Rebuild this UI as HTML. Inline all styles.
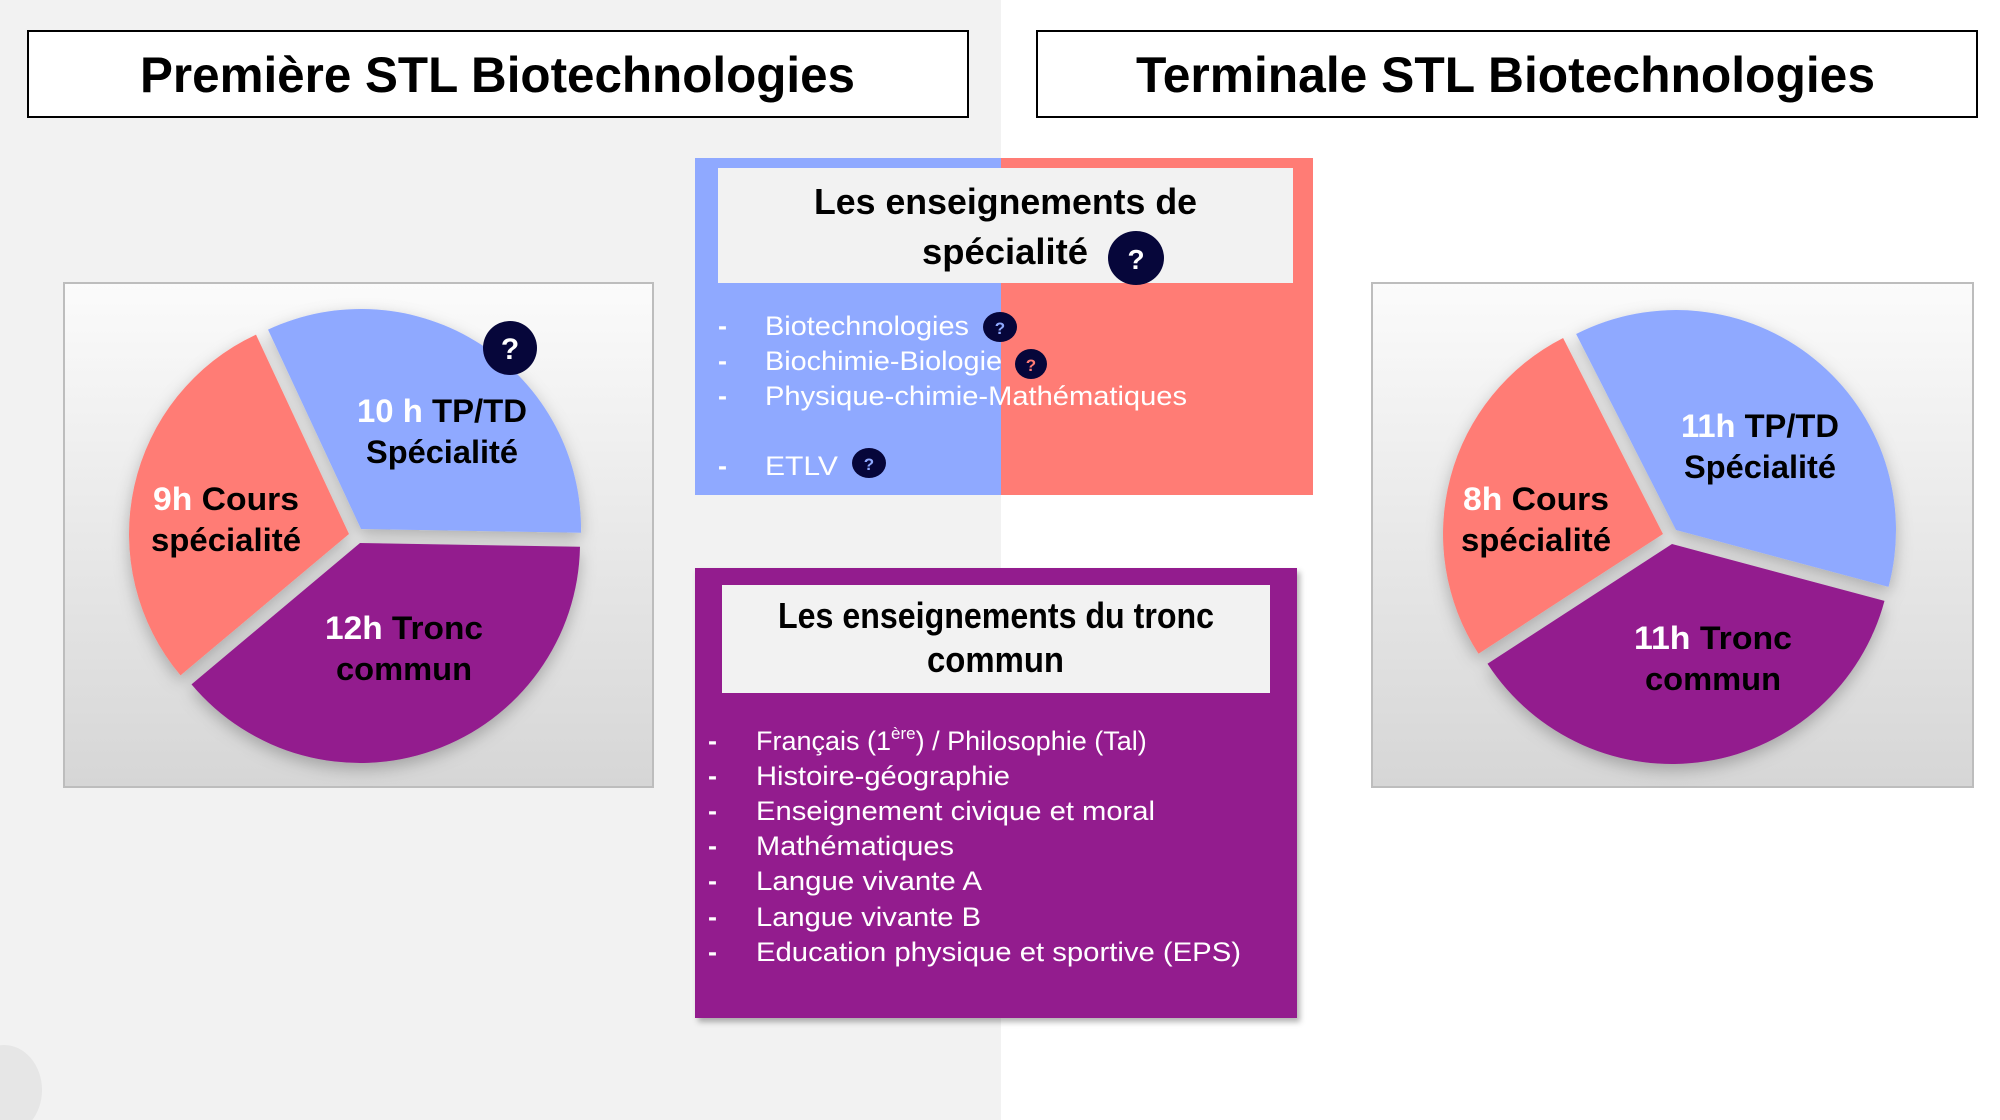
<!DOCTYPE html>
<html><head><meta charset="utf-8"><style>
html,body{margin:0;padding:0;width:2000px;height:1120px;overflow:hidden;background:#fff}
svg{display:block}
.t{font-family:"Liberation Sans",sans-serif;font-weight:bold}
.l{font-family:"Liberation Sans",sans-serif;fill:#fff}
</style></head><body>
<svg width="2000" height="1120" viewBox="0 0 2000 1120" xmlns="http://www.w3.org/2000/svg">
<defs>
<linearGradient id="pg" x1="0" y1="0" x2="0" y2="1"><stop offset="0" stop-color="#fbfbfb"/><stop offset="1" stop-color="#d6d6d6"/></linearGradient>
<filter id="sh" x="-20%" y="-20%" width="140%" height="140%"><feDropShadow dx="0" dy="6" stdDeviation="8" flood-color="#000" flood-opacity="0.25"/></filter>
<filter id="sh2" x="-10%" y="-10%" width="120%" height="120%"><feDropShadow dx="3" dy="4" stdDeviation="3" flood-color="#000" flood-opacity="0.3"/></filter>
</defs>
<rect x="0" y="0" width="1001" height="1120" fill="#f2f2f2"/>
<rect x="1001" y="0" width="999" height="1120" fill="#fff"/>
<ellipse cx="4" cy="1090" rx="38" ry="45" fill="#e6e6e6"/>

<rect x="28" y="31" width="940" height="86" fill="#fff" stroke="#000" stroke-width="2"/>
<text class="t" x="140" y="92" font-size="50" textLength="715" lengthAdjust="spacingAndGlyphs">Première STL Biotechnologies</text>
<rect x="1037" y="31" width="940" height="86" fill="#fff" stroke="#000" stroke-width="2"/>
<text class="t" x="1136" y="92" font-size="50" textLength="739" lengthAdjust="spacingAndGlyphs">Terminale STL Biotechnologies</text>

<rect x="64" y="283" width="589" height="504" fill="url(#pg)" stroke="#bdbdbd" stroke-width="2"/>
<g filter="url(#sh)">
<path d="M361,529 L268,329.6 A220,220 0 0 1 581,532.8 Z" fill="#8fa9ff"/>
<path d="M360,543 L580,546.8 A220,220 0 0 1 191.5,684.4 Z" fill="#931f8e"/>
<path d="M349,534 L180.5,675.4 A220,220 0 0 1 256,334.6 Z" fill="#ff7c75"/>
</g>
<circle cx="510" cy="348" r="27" fill="#06063a"/>
<text class="t" x="510" y="359" font-size="30" fill="#fff" text-anchor="middle">?</text>
<text class="t" x="442" y="422" font-size="32" text-anchor="middle" textLength="170" lengthAdjust="spacingAndGlyphs"><tspan fill="#fff">10 h</tspan> TP/TD</text>
<text class="t" x="442" y="463" font-size="32" text-anchor="middle" textLength="152" lengthAdjust="spacingAndGlyphs">Spécialité</text>
<text class="t" x="226" y="510" font-size="32" text-anchor="middle" textLength="146" lengthAdjust="spacingAndGlyphs"><tspan fill="#fff">9h</tspan> Cours</text>
<text class="t" x="226" y="551" font-size="32" text-anchor="middle" textLength="150" lengthAdjust="spacingAndGlyphs">spécialité</text>
<text class="t" x="404" y="639" font-size="32" text-anchor="middle" textLength="158" lengthAdjust="spacingAndGlyphs"><tspan fill="#fff">12h</tspan> Tronc</text>
<text class="t" x="404" y="680" font-size="32" text-anchor="middle" textLength="136" lengthAdjust="spacingAndGlyphs">commun</text>

<rect x="1372" y="283" width="601" height="504" fill="url(#pg)" stroke="#bdbdbd" stroke-width="2"/>
<g filter="url(#sh)">
<path d="M1676,530 L1576.1,334 A220,220 0 0 1 1888.5,586.9 Z" fill="#8fa9ff"/>
<path d="M1672,544 L1884.5,600.9 A220,220 0 0 1 1487.5,663.8 Z" fill="#931f8e"/>
<path d="M1663,534 L1478.5,653.8 A220,220 0 0 1 1563.1,338 Z" fill="#ff7c75"/>
</g>
<text class="t" x="1760" y="437" font-size="32" text-anchor="middle" textLength="158" lengthAdjust="spacingAndGlyphs"><tspan fill="#fff">11h</tspan> TP/TD</text>
<text class="t" x="1760" y="478" font-size="32" text-anchor="middle" textLength="152" lengthAdjust="spacingAndGlyphs">Spécialité</text>
<text class="t" x="1536" y="510" font-size="32" text-anchor="middle" textLength="146" lengthAdjust="spacingAndGlyphs"><tspan fill="#fff">8h</tspan> Cours</text>
<text class="t" x="1536" y="551" font-size="32" text-anchor="middle" textLength="150" lengthAdjust="spacingAndGlyphs">spécialité</text>
<text class="t" x="1713" y="649" font-size="32" text-anchor="middle" textLength="158" lengthAdjust="spacingAndGlyphs"><tspan fill="#fff">11h</tspan> Tronc</text>
<text class="t" x="1713" y="690" font-size="32" text-anchor="middle" textLength="136" lengthAdjust="spacingAndGlyphs">commun</text>

<rect x="695" y="158" width="306" height="337" fill="#8fa9ff"/>
<rect x="1001" y="158" width="312" height="337" fill="#ff7c75"/>
<rect x="718" y="168" width="575" height="115" fill="#f2f2f2"/>
<text class="t" x="814" y="214" font-size="36" textLength="383" lengthAdjust="spacingAndGlyphs">Les enseignements de</text>
<text class="t" x="922" y="264" font-size="36" textLength="166" lengthAdjust="spacingAndGlyphs">spécialité</text>
<ellipse cx="1136" cy="258" rx="28" ry="27" fill="#06063a"/>
<text class="t" x="1136" y="269" font-size="28" fill="#fff" text-anchor="middle">?</text>
<g class="l" font-size="27">
<text x="718" y="335" font-weight="bold">-</text><text x="765" y="335" textLength="204" lengthAdjust="spacingAndGlyphs">Biotechnologies</text>
<text x="718" y="370" font-weight="bold">-</text><text x="765" y="370" textLength="237" lengthAdjust="spacingAndGlyphs">Biochimie-Biologie</text>
<text x="718" y="405" font-weight="bold">-</text><text x="765" y="405" textLength="422" lengthAdjust="spacingAndGlyphs">Physique-chimie-Mathématiques</text>
<text x="718" y="475" font-weight="bold">-</text><text x="765" y="475" textLength="73" lengthAdjust="spacingAndGlyphs">ETLV</text>
</g>
<ellipse cx="1000" cy="327" rx="17" ry="15" fill="#06063a"/>
<text class="t" x="1000" y="334" font-size="17" fill="#8fa9ff" text-anchor="middle">?</text>
<ellipse cx="1031" cy="364" rx="16" ry="15" fill="#06063a"/>
<text class="t" x="1031" y="371" font-size="17" fill="#ff7c75" text-anchor="middle">?</text>
<ellipse cx="869" cy="463" rx="17" ry="15" fill="#06063a"/>
<text class="t" x="869" y="470" font-size="17" fill="#8fa9ff" text-anchor="middle">?</text>

<rect x="695" y="568" width="602" height="450" fill="#931f8e" filter="url(#sh2)"/>
<rect x="722" y="585" width="548" height="108" fill="#f2f2f2"/>
<text class="t" x="778" y="628" font-size="36" textLength="436" lengthAdjust="spacingAndGlyphs">Les enseignements du tronc</text>
<text class="t" x="927" y="672" font-size="36" textLength="137" lengthAdjust="spacingAndGlyphs">commun</text>
<g class="l" font-size="27">
<text x="708" y="750" font-weight="bold">-</text><text x="756" y="750">Français (1<tspan font-size="17" dy="-11">ère</tspan><tspan dy="11">) / Philosophie (Tal)</tspan></text>
<text x="708" y="785" font-weight="bold">-</text><text x="756" y="785" textLength="254" lengthAdjust="spacingAndGlyphs">Histoire-géographie</text>
<text x="708" y="820" font-weight="bold">-</text><text x="756" y="820" textLength="399" lengthAdjust="spacingAndGlyphs">Enseignement civique et moral</text>
<text x="708" y="855" font-weight="bold">-</text><text x="756" y="855" textLength="198" lengthAdjust="spacingAndGlyphs">Mathématiques</text>
<text x="708" y="890" font-weight="bold">-</text><text x="756" y="890" textLength="226" lengthAdjust="spacingAndGlyphs">Langue vivante A</text>
<text x="708" y="926" font-weight="bold">-</text><text x="756" y="926" textLength="225" lengthAdjust="spacingAndGlyphs">Langue vivante B</text>
<text x="708" y="961" font-weight="bold">-</text><text x="756" y="961" textLength="485" lengthAdjust="spacingAndGlyphs">Education physique et sportive (EPS)</text>
</g>
</svg>
</body></html>
